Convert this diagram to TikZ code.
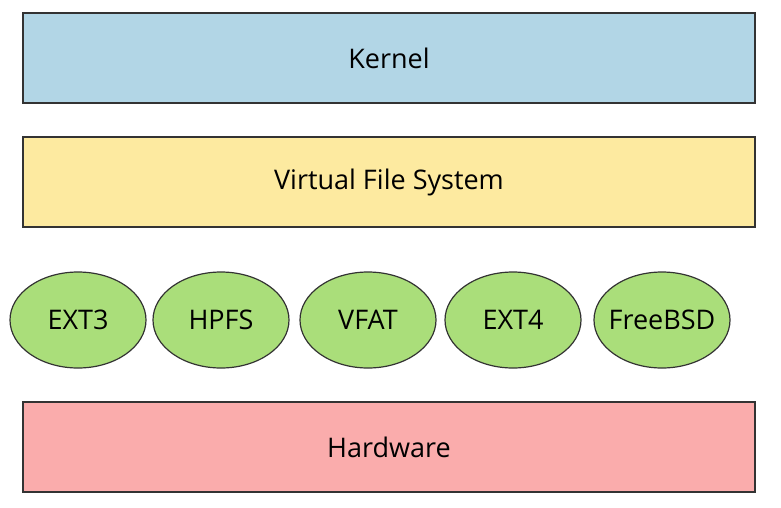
\documentclass[tikz,border=0pt]{standalone}
\usepackage{fontspec}
\setmainfont{Open Sans}
\usetikzlibrary{shapes.geometric}
\definecolor{kblue}{RGB}{178,214,230}
\definecolor{vyellow}{RGB}{253,234,160}
\definecolor{fgreen}{RGB}{170,222,122}
\definecolor{hpink}{RGB}{250,172,172}
\begin{document}
\begin{tikzpicture}[x=1pt,y=-1pt,
    layer/.style={draw=black!80, line width=1.2pt, minimum width=732pt, minimum height=90pt,
                  font=\fontsize{27}{31}\selectfont},
    fs/.style={draw=black!80, line width=1.2pt, ellipse, fill=fgreen, minimum width=136pt,
               minimum height=96pt, inner sep=0pt, font=\fontsize{27}{31}\selectfont}]
\useasboundingbox (0,0) rectangle (781,507);
\node[layer, fill=kblue] (kernel) at (389,58) {Kernel};
\node[layer, fill=vyellow] (vfs) at (389,182) {Virtual File System};
\node[fs] (ext3) at (78,320) {EXT3};
\node[fs] (hpfs) at (221,320) {HPFS};
\node[fs] (vfat) at (368,320) {VFAT};
\node[fs] (ext4) at (513,320) {EXT4};
\node[fs, inner xsep=-14pt] (bsd) at (662,320) {FreeBSD};
\node[layer, fill=hpink] (hw) at (389,447) {Hardware};
\end{tikzpicture}
\end{document}
